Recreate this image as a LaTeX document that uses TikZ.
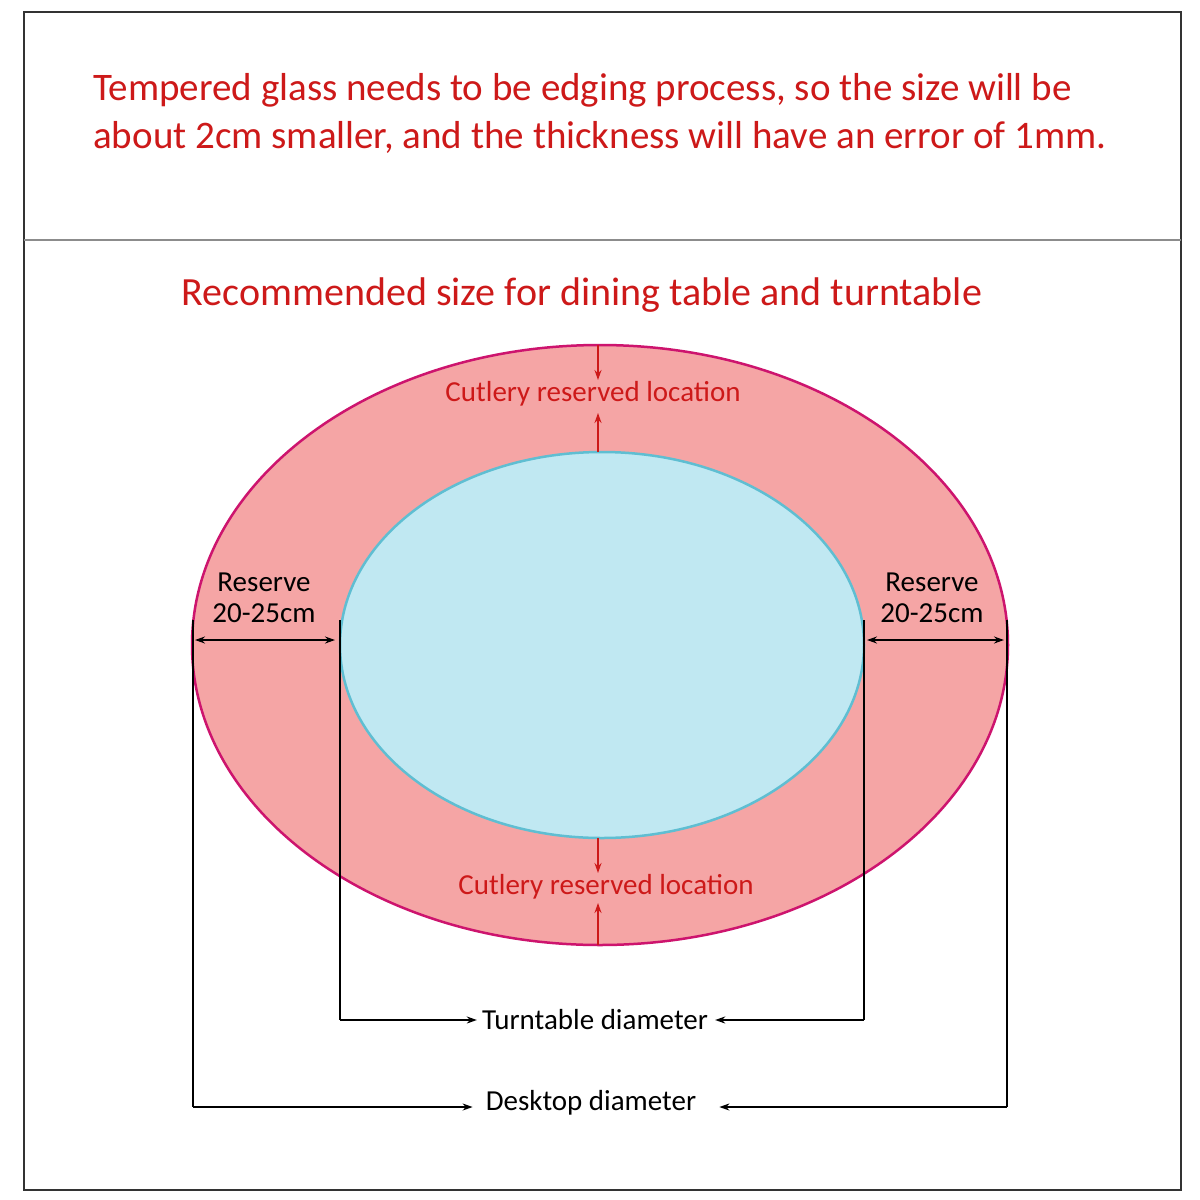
\documentclass[tikz,border=0pt]{standalone}
\usepackage{fontspec}
\setmainfont{Carlito}
\usetikzlibrary{arrows.meta}
\definecolor{txtred}{RGB}{205,25,25}
\definecolor{pinkfill}{RGB}{245,165,165}
\definecolor{pinkline}{RGB}{205,20,110}
\definecolor{bluefill}{RGB}{192,232,242}
\definecolor{blueline}{RGB}{95,190,210}
\tikzset{
 dim/.style={black,line width=1.6pt,-{Stealth[length=10pt,width=7pt]}},
 plain/.style={black,line width=1.6pt},
 redarr/.style={txtred,line width=1.3pt,-{Stealth[length=10pt,width=7pt]}},
 lbl/.style={font=\fontsize{29}{31}\selectfont, inner sep=1pt},
}
\begin{document}
\begin{tikzpicture}[x=1pt,y=-1pt]
\useasboundingbox (0,0) rectangle (1200,1200);
\fill[white] (0,0) rectangle (1200,1200);
\draw[black!80,line width=1.3pt] (24,12) rectangle (1181,1190);
\draw[black!45,line width=1.3pt] (24,240) -- (1181,240);
\node[txtred,align=left,font=\fontsize{39}{48}\selectfont] (head) at (600,113) {Tempered glass needs to be edging process, so the size will be\\about 2cm smaller, and the thickness will have an error of 1mm.};
\node[txtred,font=\fontsize{40}{42}\selectfont] (title) at (582,295) {Recommended size for dining table and turntable};
\draw[pinkline,fill=pinkfill,line width=2.5pt] (600,645) ellipse [x radius=408,y radius=300];
\draw[blueline,fill=bluefill,line width=2.5pt] (602,645) ellipse [x radius=262,y radius=193];
\coordinate (ot) at (598,345); \coordinate (it) at (598,452);
\coordinate (ib) at (598,838); \coordinate (ob) at (598,945);
\node[txtred,lbl] (ctop) at (593,394) {Cutlery reserved location};
\node[txtred,lbl] (cbot) at (606,887) {Cutlery reserved location};
\draw[redarr] (ot) -- (598,380);
\draw[redarr] (it) -- (598,413);
\draw[redarr] (ib) -- (598,873);
\draw[redarr] (ob) -- (598,903);
\node[lbl,align=center] (rl) at (264,598) {Reserve\\20-25cm};
\node[lbl,align=center] (rr) at (932,598) {Reserve\\20-25cm};
\coordinate (lo) at (193,620); \coordinate (li) at (340,620);
\coordinate (ri) at (864,620); \coordinate (ro) at (1007,620);
\draw[plain,{Stealth[length=10pt,width=7pt]}-{Stealth[length=10pt,width=7pt]}] (195,640) -- (335,640);
\draw[plain,{Stealth[length=10pt,width=7pt]}-{Stealth[length=10pt,width=7pt]}] (867,640) -- (1004,640);
\node[lbl] (td) at (595,1020) {Turntable diameter};
\node[lbl] (dd) at (591,1103) {Desktop diameter};
\draw[plain] (li) -- (340,1020);
\draw[dim] (340,1020) -- ([xshift=-4pt]td.west);
\draw[plain] (ri) -- (864,1020);
\draw[dim] (864,1020) -- ([xshift=6pt]td.east);
\draw[plain] (lo) -- (193,1107);
\draw[dim] (193,1107) -- ([xshift=-12pt,yshift=-4pt]dd.west);
\draw[plain] (ro) -- (1007,1107);
\draw[dim] (1007,1107) -- ([xshift=22pt,yshift=-4pt]dd.east);
\end{tikzpicture}
\end{document}
